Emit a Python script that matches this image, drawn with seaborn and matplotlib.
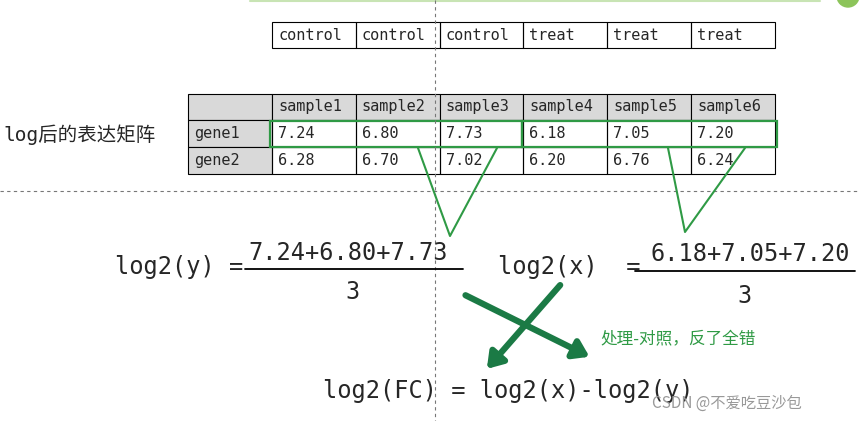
import matplotlib
matplotlib.use("Agg")
import matplotlib.pyplot as plt
import seaborn as sns
from matplotlib.patches import Rectangle, FancyArrowPatch

sns.set_theme(style="white")
plt.rcParams['font.family'] = ['DejaVu Sans Mono', 'Noto Sans CJK SC']

groups = ["control", "control", "control", "treat", "treat", "treat"]
samples = ["sample1", "sample2", "sample3", "sample4", "sample5", "sample6"]
genes = ["gene1", "gene2"]
gene1 = ["7.24", "6.80", "7.73", "6.18", "7.05", "7.20"]
gene2 = ["6.28", "6.70", "7.02", "6.20", "6.76", "6.24"]

GREEN = "#2f9a45"
DARK_GREEN = "#1b7a45"

fig = plt.figure(figsize=(8.59, 4.21), dpi=100)
ax = fig.add_axes([0, 0, 1, 1])
ax.set_xlim(0, 859)
ax.set_ylim(421, 0)
ax.axis("off")

# faint top decorations
ax.plot([250, 820], [0.5, 0.5], color="#c8e4b4", lw=1.5)
ax.add_patch(plt.Circle((848, -4), 11, color="#8cc45a"))

# dashed guide lines
ax.plot([435, 435], [0, 421], color="#777777", lw=0.8, ls=(0, (3, 3)))
ax.plot([0, 859], [191, 191], color="#777777", lw=0.8, ls=(0, (3, 3)))

x0, cw = 272, 83.8
# group row
for i, g in enumerate(groups):
    ax.add_patch(Rectangle((x0 + i * cw, 22), cw, 26, fill=False, ec="black", lw=0.8))
    ax.text(x0 + i * cw + 6, 35, g, fontsize=11, va="center")

# matrix table
ax.add_patch(Rectangle((188, 94), x0 - 188, 26, fc="#d9d9d9", ec="black", lw=0.8))
for i, s in enumerate(samples):
    ax.add_patch(Rectangle((x0 + i * cw, 94), cw, 26, fc="#d9d9d9", ec="black", lw=0.8))
    ax.text(x0 + i * cw + 6, 107, s, fontsize=11, va="center")
for r, (g, vals) in enumerate(zip(genes, [gene1, gene2])):
    y = 120 + r * 27
    ax.add_patch(Rectangle((188, y), x0 - 188, 27, fc="#d9d9d9", ec="black", lw=0.8))
    ax.text(194, y + 13.5, g, fontsize=11, va="center")
    for i, v in enumerate(vals):
        ax.add_patch(Rectangle((x0 + i * cw, y), cw, 27, fill=False, ec="black", lw=0.8))
        ax.text(x0 + i * cw + 6, y + 13.5, v, fontsize=11, va="center")

ax.text(3, 135, "log后的表达矩阵", fontsize=14, va="center")

# green highlight boxes and V pointers
ax.add_patch(Rectangle((270, 121), 252, 26, fill=False, ec=GREEN, lw=1.6))
ax.add_patch(Rectangle((522, 121), 255, 26, fill=False, ec=GREEN, lw=1.6))
ax.plot([418, 450, 497], [148, 236, 148], color=GREEN, lw=1.5)
ax.plot([668, 685, 745], [148, 232, 148], color=GREEN, lw=1.5)

# formulas
fs = 17
ax.text(115, 267, "log2(y) =", fontsize=fs, va="center")
ax.text(248, 253, "+".join(gene1[:3]), fontsize=fs, va="center")
ax.plot([245, 463], [269, 269], color="black", lw=1.3)
ax.text(345, 292, "3", fontsize=fs, va="center")
ax.text(498, 267, "log2(x)  =", fontsize=fs, va="center")
ax.text(650, 254, "+".join(gene1[3:]), fontsize=fs, va="center")
ax.plot([635, 855], [271, 271], color="black", lw=1.3)
ax.text(737, 296, "3", fontsize=fs, va="center")

# crossing arrows
for (a, b) in [((463, 294), (592, 358)), ((562, 283), (485, 371))]:
    ax.add_patch(FancyArrowPatch(a, b, arrowstyle="-|>,head_length=6,head_width=4",
                                 color=DARK_GREEN, lw=4.5, mutation_scale=1.5))
ax.text(600, 340, "处理-对照，反了全错", fontsize=12, color=GREEN, va="center",
        family=['Noto Sans CJK SC'])

ax.text(323, 391, "log2(FC) = log2(x)-log2(y)", fontsize=fs, va="center")
ax.text(652, 403, "CSDN @不爱吃豆沙包", fontsize=11, color="#999999", va="center",
        family=['Noto Sans CJK SC'])

fig.savefig("out.png", dpi=100)
